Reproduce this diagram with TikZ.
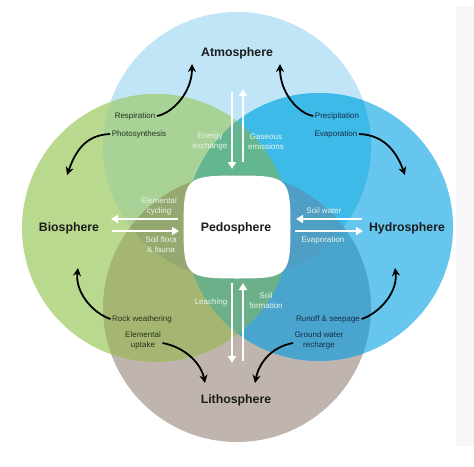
\documentclass[tikz,border=0pt]{standalone}
\usepackage{fontspec}
\setmainfont{Liberation Sans}
\usepackage{xcolor}
\usetikzlibrary{arrows.meta}

\definecolor{panel}{RGB}{246,246,248}
\definecolor{colA}{RGB}{192,229,246}
\definecolor{colB}{RGB}{185,218,142}
\definecolor{colH}{RGB}{102,198,238}
\definecolor{colL}{RGB}{192,180,174}
\definecolor{colAB}{RGB}{168,210,150}
\definecolor{colAH}{RGB}{62,186,232}
\definecolor{colBL}{RGB}{165,182,115}
\definecolor{colHL}{RGB}{74,165,206}
\definecolor{colABH}{RGB}{100,182,145}
\definecolor{colABL}{RGB}{148,168,112}
\definecolor{colAHL}{RGB}{78,158,198}
\definecolor{colBHL}{RGB}{108,176,138}
\definecolor{colQ}{RGB}{104,172,140}
\definecolor{ink}{RGB}{28,28,28}
\definecolor{inkg}{RGB}{36,52,28}
\definecolor{inkb}{RGB}{22,44,72}
\definecolor{pale}{RGB}{234,246,232}

\begin{document}
\begin{tikzpicture}[x=1pt,y=-1pt,
  big/.style={font=\fontsize{12.3}{14}\selectfont\bfseries,text=ink},
  lbl/.style={font=\fontsize{8}{10}\selectfont,align=center,inner sep=1.5pt},
  grn/.style={lbl,text=inkg},
  blu/.style={lbl,text=inkb},
  wht/.style={lbl,text=pale},
  warr/.style={white,line width=2.2pt,-{Triangle[length=7pt,width=8pt]}},
  barr/.style={black,line width=1.8pt,-{Stealth[length=8pt,width=8pt]}}]
  \def\R{134pt}
  \useasboundingbox (0,0) rectangle (474,466);
  \fill[panel] (456,6) rectangle (474,446);

  \coordinate (atmc) at (237,146);
  \coordinate (bioc) at (156,228);
  \coordinate (hydc) at (319,227);
  \coordinate (litc) at (237,308);

  \fill[colL] (litc) circle[radius=\R];
  \fill[colA] (atmc) circle[radius=\R];
  \fill[colB] (bioc) circle[radius=\R];
  \fill[colH] (hydc) circle[radius=\R];
  \foreach \p/\q/\c in {atmc/bioc/colAB, atmc/hydc/colAH, bioc/litc/colBL, hydc/litc/colHL}{
    \begin{scope}
      \clip (\p) circle[radius=\R];
      \fill[\c] (\q) circle[radius=\R];
    \end{scope}
  }
  \foreach \p/\q/\r/\c in {atmc/bioc/hydc/colABH, atmc/bioc/litc/colABL,
                           atmc/hydc/litc/colAHL, bioc/hydc/litc/colBHL}{
    \begin{scope}
      \clip (\p) circle[radius=\R];
      \clip (\q) circle[radius=\R];
      \fill[\c] (\r) circle[radius=\R];
    \end{scope}
  }
  \begin{scope}
    \clip (atmc) circle[radius=\R];
    \clip (bioc) circle[radius=\R];
    \clip (hydc) circle[radius=\R];
    \fill[colQ] (litc) circle[radius=\R];
  \end{scope}

  \fill[white]
    (237,175.5) .. controls (288,175.5) and (290.5,178) ..
    (290.5,227) .. controls (290.5,276) and (288,278.5) ..
    (237,278.5) .. controls (186,278.5) and (183.5,276) ..
    (183.5,227) .. controls (183.5,178) and (186,175.5) .. (237,175.5) -- cycle;

  \node[big] (ped) at (236,228) {Pedosphere};
  \node[big] (atm) at (237,53) {Atmosphere};
  \node[big] (bio) at (69,228) {Biosphere};
  \node[big] (hyd) at (407,228) {Hydrosphere};
  \node[big] (lit) at (236,400) {Lithosphere};

  \node[grn] (resp) at (135,116) {Respiration};
  \node[grn] (phot) at (139,134) {Photosynthesis};
  \node[blu] (prec) at (337,116) {Precipitation};
  \node[blu] (evpt) at (336,134) {Evaporation};
  \node[grn] (rock) at (142,319) {Rock weathering};
  \node[grn] (upt) at (143,340) {Elemental\\uptake};
  \node[blu] (run) at (328,319) {Runoff \& seepage};
  \node[blu] (gwr) at (319,340) {Ground water\\recharge};

  \node[wht] (enx) at (210,142) {Energy\\exchange};
  \node[wht] (gas) at (266,142) {Gaseous\\emissions};
  \node[wht] (elc) at (159,206) {Elemental\\cycling};
  \node[wht] (sff) at (161,245) {Soil flora\\\& fauna};
  \node[wht] (sw) at (324,211) {Soil water};
  \node[wht] (evpi) at (323,240) {Evaporation};
  \node[wht] (lea) at (211,302) {Leaching};
  \node[wht] (sfm) at (266,301) {Soil\\formation};

  \coordinate (ta1) at (232,92);   \coordinate (ta2) at (232,169);
  \coordinate (tb1) at (243,162);  \coordinate (tb2) at (243,89);
  \coordinate (ba1) at (232,283);  \coordinate (ba2) at (232,363);
  \coordinate (bb1) at (243,361);  \coordinate (bb2) at (243,283);
  \coordinate (la1) at (178,219);  \coordinate (la2) at (111,219);
  \coordinate (lb1) at (112,231);  \coordinate (lb2) at (179,231);
  \coordinate (ra1) at (362,219);  \coordinate (ra2) at (296,219);
  \coordinate (rb1) at (295,231);  \coordinate (rb2) at (363,231);
  \draw[warr] (ta1) -- (ta2);
  \draw[warr] (tb1) -- (tb2);
  \draw[warr] (ba1) -- (ba2);
  \draw[warr] (bb1) -- (bb2);
  \draw[warr] (la1) -- (la2);
  \draw[warr] (lb1) -- (lb2);
  \draw[warr] (ra1) -- (ra2);
  \draw[warr] (rb1) -- (rb2);

  \coordinate (atl) at (192,64);
  \coordinate (atr) at (280,64);
  \coordinate (bit) at (67,175);
  \coordinate (bib) at (78,268);
  \coordinate (hyt) at (405,175);
  \coordinate (hyb) at (395,268);
  \coordinate (lil) at (205,383);
  \coordinate (lir) at (255,383);
  \draw[barr] (resp.east) .. controls +(16,-3) and +(0,28) .. (atl);
  \draw[barr] (prec.west) .. controls +(-16,-3) and +(0,28) .. (atr);
  \draw[barr] (phot.west) .. controls +(-26,1) and +(8,-22) .. (bit);
  \draw[barr] (evpt.east) .. controls +(26,1) and +(-8,-22) .. (hyt);
  \draw[barr] (rock.west) .. controls +(-18,-6) and +(-3,24) .. (bib);
  \draw[barr] (run.east) .. controls +(18,-6) and +(3,24) .. (hyb);
  \draw[barr] ([yshift=-3pt]upt.east) .. controls +(22,4) and +(-4,-20) .. (lil);
  \draw[barr] ([yshift=-3pt]gwr.west) .. controls +(-22,4) and +(4,-20) .. (lir);
\end{tikzpicture}
\end{document}
